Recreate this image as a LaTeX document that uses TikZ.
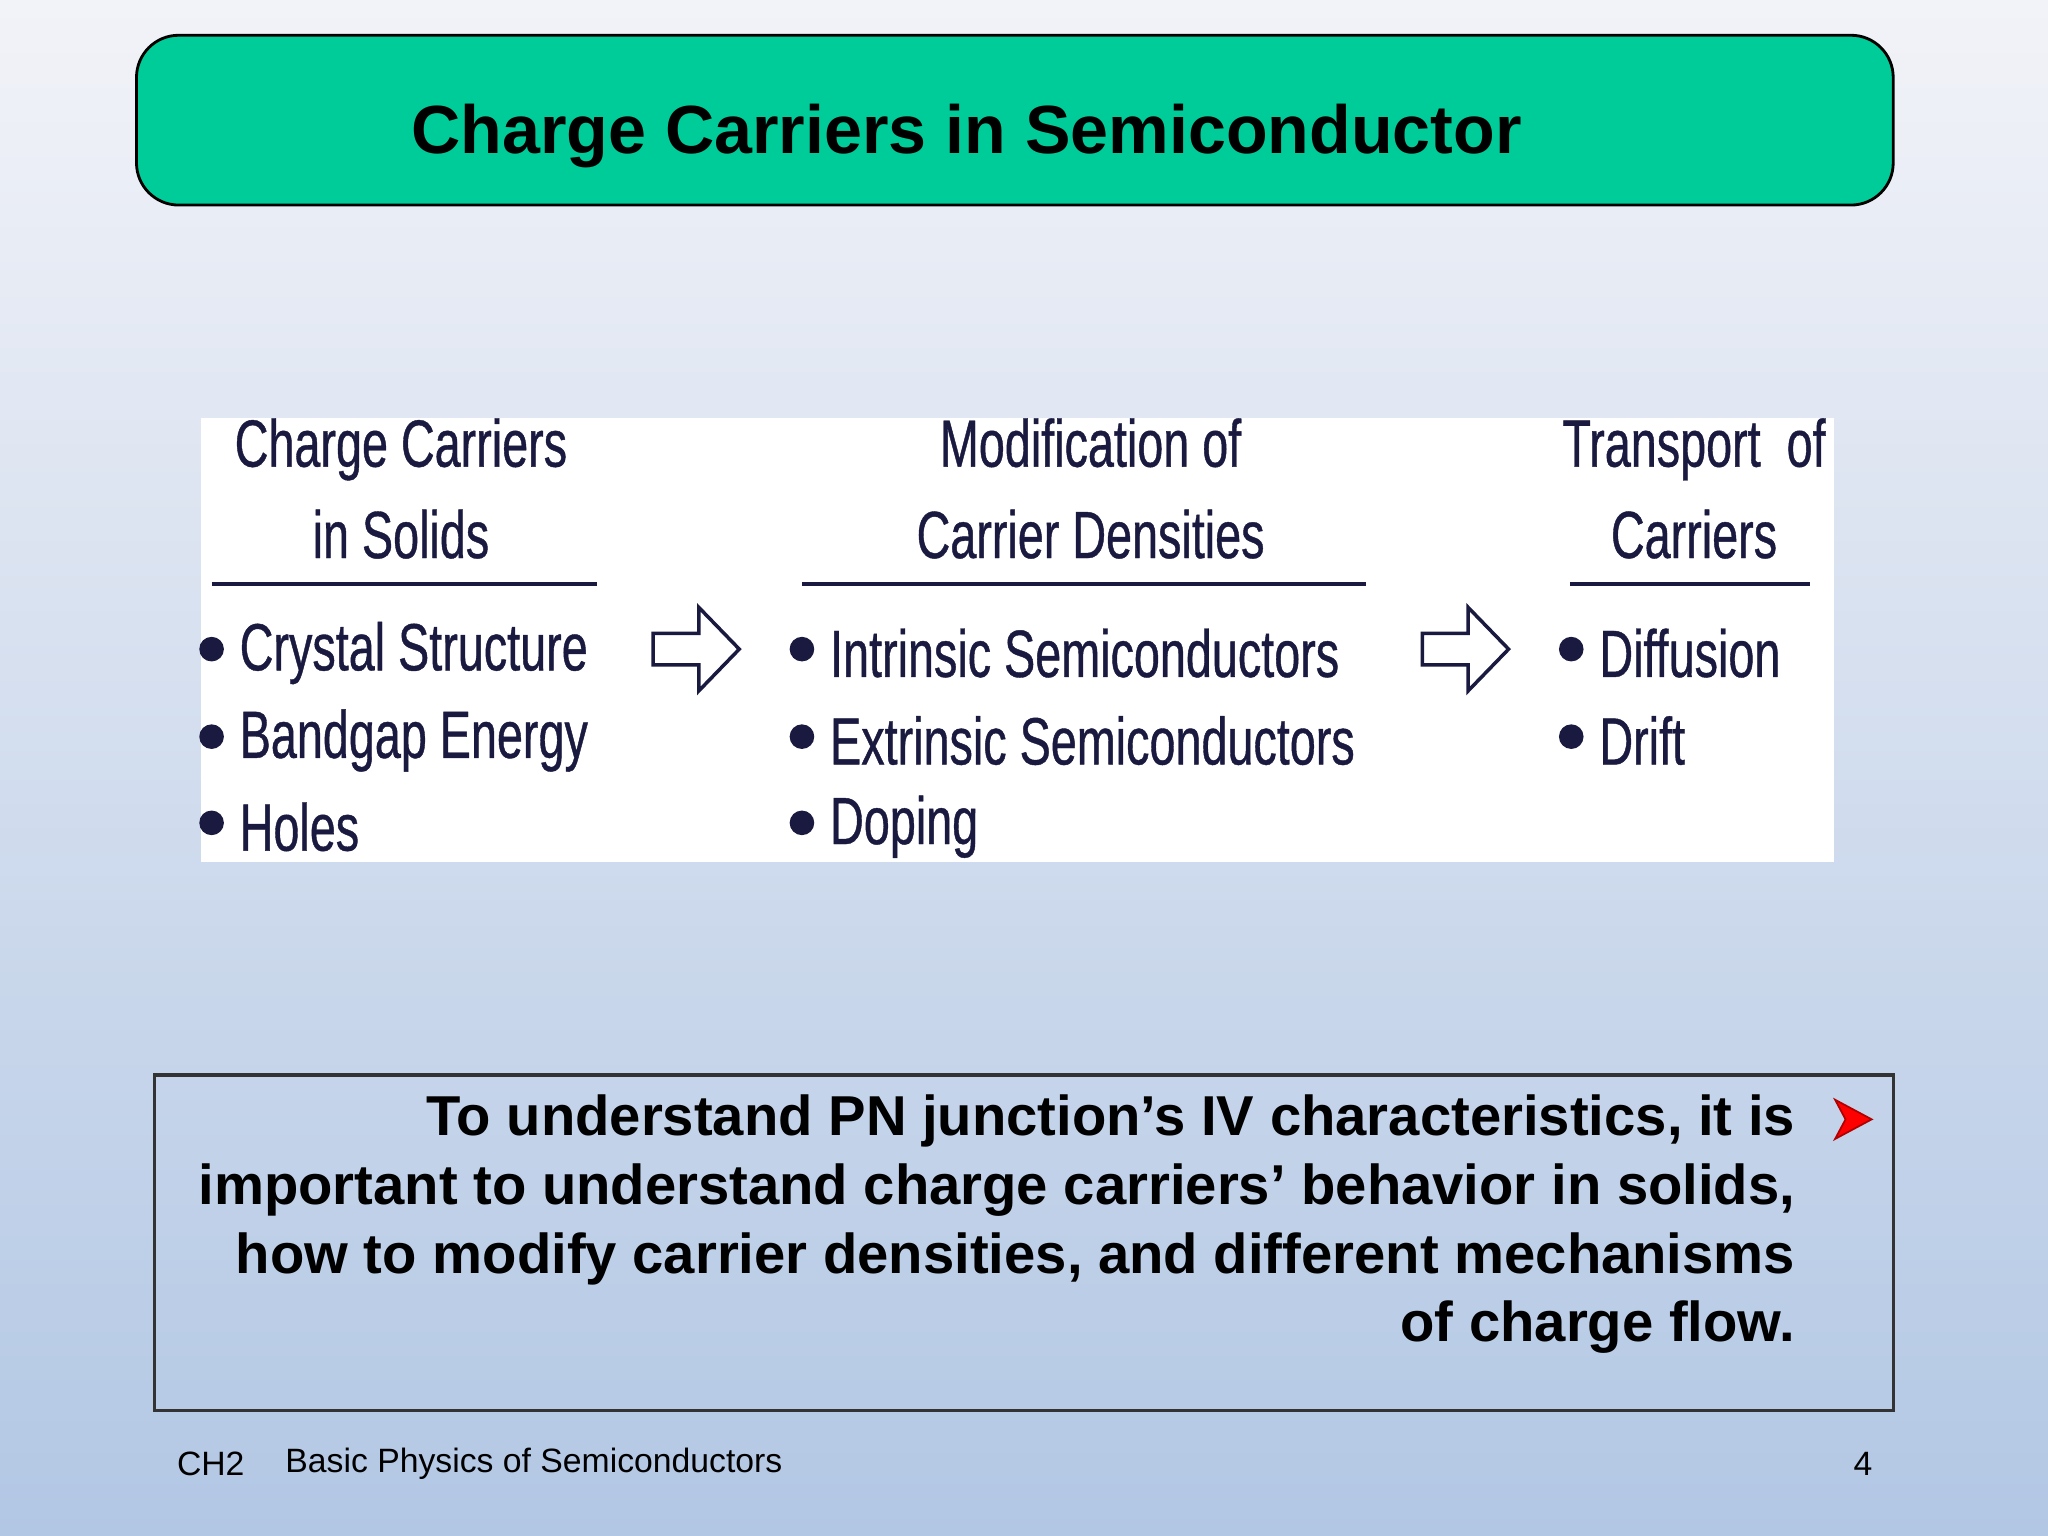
\documentclass[tikz,border=0pt]{standalone}
\usepackage{fontspec}
\setmainfont{Liberation Sans}
\newfontfamily\narrowf[FakeStretch=0.7,FakeBold=0.6]{Liberation Sans}
\begin{document}
\begin{tikzpicture}[x=0.01306cm,y=-0.01306cm,
  hdr/.style={font=\narrowf\fontsize{19pt}{23pt}\selectfont,text=navy,align=center},
  itm/.style={font=\narrowf\fontsize{19pt}{23pt}\selectfont,text=navy,anchor=west,inner sep=0},
  dot/.style={circle,fill=navy,inner sep=0,minimum size=7},
  rule/.style={draw=navy,line width=1.3pt},
  harrow/.style={draw=navy,line width=1pt,fill=white}]
\definecolor{navy}{HTML}{1A1A40}
\definecolor{topc}{HTML}{F2F3F8}
\definecolor{botc}{HTML}{B2C7E4}
\definecolor{teal}{HTML}{00CC99}
\shade[top color=topc,bottom color=botc] (0,0) rectangle (1568,1176);
\useasboundingbox (0,0) rectangle (1568,1176);
% title
\node[draw=black,line width=0.8pt,fill=teal,rounded corners=12pt,minimum width=1345*0.01306cm,minimum height=130*0.01306cm] (title) at (777,92) {};
\node[font=\bfseries\fontsize{19.4pt}{23pt}\selectfont] (ttext) at (740,104) {Charge Carriers in Semiconductor};
% panel
\fill[white] (154,320) rectangle (1404,660);
\node[hdr] (h1) at (307,374) {Charge Carriers\\[3pt]in Solids};
\node[hdr] (h2) at (835,374) {Modification of\\[3pt]Carrier Densities};
\node[hdr] (h3) at (1297,374) {Transport~~of\\[3pt]Carriers};
\draw[rule] (162,447) -- (457,447);
\draw[rule] (614,447) -- (1046,447);
\draw[rule] (1202,447) -- (1386,447);
\foreach \x/\y/\t/\n in {162/500/Crystal Structure/a1,162/567/Bandgap Energy/a2,162/633/Holes/a3,
 614/500/Intrinsic Semiconductors/b1,614/567/Extrinsic Semiconductors/b2,614/633/Doping/b3,
 1203/500/Diffusion/c1,1203/567/Drift/c2}{
 \node[dot] (d\n) at (\x,\y-3) {};
 \node[itm] (\n) at (\x+21,\y) {\t};}
\foreach \x in {500,1089}{
 \draw[harrow] (\x,485) -- (\x+35,485) -- (\x+35,465) -- (\x+66,497) -- (\x+35,529) -- (\x+35,509) -- (\x,509) -- cycle;}
% bottom box
\draw[draw=black!80,line width=0.9pt] (118,823) rectangle (1450,1080);
\node[font=\bfseries\fontsize{16pt}{19.5pt}\selectfont,align=right,anchor=north east,inner sep=0] (msg) at (1375,838)
 {To understand PN junction’s IV characteristics, it is\\important to understand charge carriers’ behavior in solids,\\how to modify carrier densities, and different mechanisms\\of charge flow.};
\filldraw[fill=red,draw=red!70!black,line width=0.5pt] (1405,842) -- (1433,857) -- (1405,872) -- (1413,857) -- cycle;
% footer
\node[font=\fontsize{9.6pt}{12pt}\selectfont,anchor=west,inner sep=0] (f1) at (135,1121) {CH2};
\node[font=\fontsize{9.6pt}{12pt}\selectfont,anchor=west,inner sep=0] (f2) at (218,1121) {Basic Physics of Semiconductors};
\node[font=\fontsize{9.6pt}{12pt}\selectfont,anchor=east,inner sep=0] (f3) at (1434,1121) {4};
\end{tikzpicture}
\end{document}
